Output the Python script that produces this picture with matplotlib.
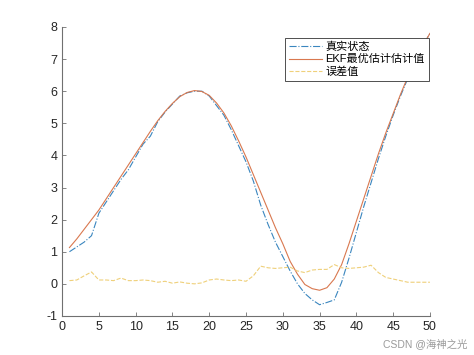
import numpy as np
import matplotlib
matplotlib.use('Agg')
import matplotlib.pyplot as plt

plt.rcParams['font.family'] = ['Liberation Sans', 'Noto Sans CJK SC', 'DejaVu Sans']
plt.rcParams['axes.unicode_minus'] = False

# 时间步
t = np.arange(1, 51)

# 真实状态
true_state = [1.0, 1.15, 1.3, 1.5, 2.2, 2.55, 2.9, 3.25, 3.55, 3.95,
              4.35, 4.6, 5.05, 5.35, 5.6, 5.85, 5.95, 6.0, 6.0, 5.85,
              5.55, 5.25, 4.8, 4.3, 3.8, 3.2, 2.45, 1.85, 1.3, 0.85,
              0.4, 0.0, -0.3, -0.5, -0.65, -0.58, -0.5, 0.05, 0.8, 1.6,
              2.4, 3.15, 3.9, 4.6, 5.25, 5.85, 6.4, 6.95, 7.4, 7.8]

# EKF最优估计值
ekf_est = [1.13, 1.4, 1.7, 2.0, 2.3, 2.65, 3.0, 3.35, 3.7, 4.05,
           4.4, 4.75, 5.08, 5.37, 5.62, 5.83, 5.96, 6.02, 5.99, 5.87,
           5.63, 5.32, 4.92, 4.45, 3.95, 3.4, 2.85, 2.3, 1.75, 1.25,
           0.7, 0.3, -0.02, -0.15, -0.2, -0.12, 0.15, 0.6, 1.25, 1.95,
           2.65, 3.35, 4.05, 4.7, 5.3, 5.9, 6.45, 6.95, 7.4, 7.8]

# 误差值
err = [0.1, 0.12, 0.25, 0.37, 0.12, 0.12, 0.1, 0.18, 0.1, 0.1,
       0.12, 0.1, 0.05, 0.08, 0.02, 0.06, 0.02, 0.0, 0.03, 0.12,
       0.15, 0.12, 0.1, 0.12, 0.08, 0.25, 0.55, 0.5, 0.48, 0.5,
       0.52, 0.4, 0.35, 0.43, 0.45, 0.45, 0.6, 0.5, 0.48, 0.5,
       0.52, 0.58, 0.35, 0.2, 0.15, 0.1, 0.05, 0.05, 0.05, 0.05]

fig = plt.figure(figsize=(4.74, 3.55), dpi=100)
ax = fig.add_axes([0.131, 0.110, 0.776, 0.814])

ax.plot(t, true_state, '-.', color='#3a86bf', linewidth=0.8, label='真实状态')
ax.plot(t, ekf_est, '-', color='#d9784f', linewidth=0.8, label='EKF最优估计估计值')
ax.plot(t, err, '--', color='#efd07a', linewidth=0.8, label='误差值')

ax.set_xlim(0, 50)
ax.set_ylim(-1, 8)
ax.set_xticks(range(0, 51, 5))
ax.set_yticks(range(-1, 9))
ax.spines['top'].set_visible(False)
ax.spines['right'].set_visible(False)
for s in ['left', 'bottom']:
    ax.spines[s].set_color('#707070')
    ax.spines[s].set_linewidth(0.8)
ax.tick_params(direction='in', length=3, width=0.6, colors='#707070',
               labelcolor='#262626', labelsize=9)

leg = ax.legend(loc='upper right', bbox_to_anchor=(1.012, 0.982),
                fontsize=8, handlelength=3.0, borderpad=0.35,
                labelspacing=0.2, handletextpad=0.3, fancybox=False,
                framealpha=1)
leg.get_frame().set_edgecolor('#333333')
leg.get_frame().set_linewidth(0.6)

fig.text(0.985, 0.022, 'CSDN @海神之光', fontsize=7.5, color='#9a9a9a', ha='right')

plt.savefig('out.png', dpi=100)
